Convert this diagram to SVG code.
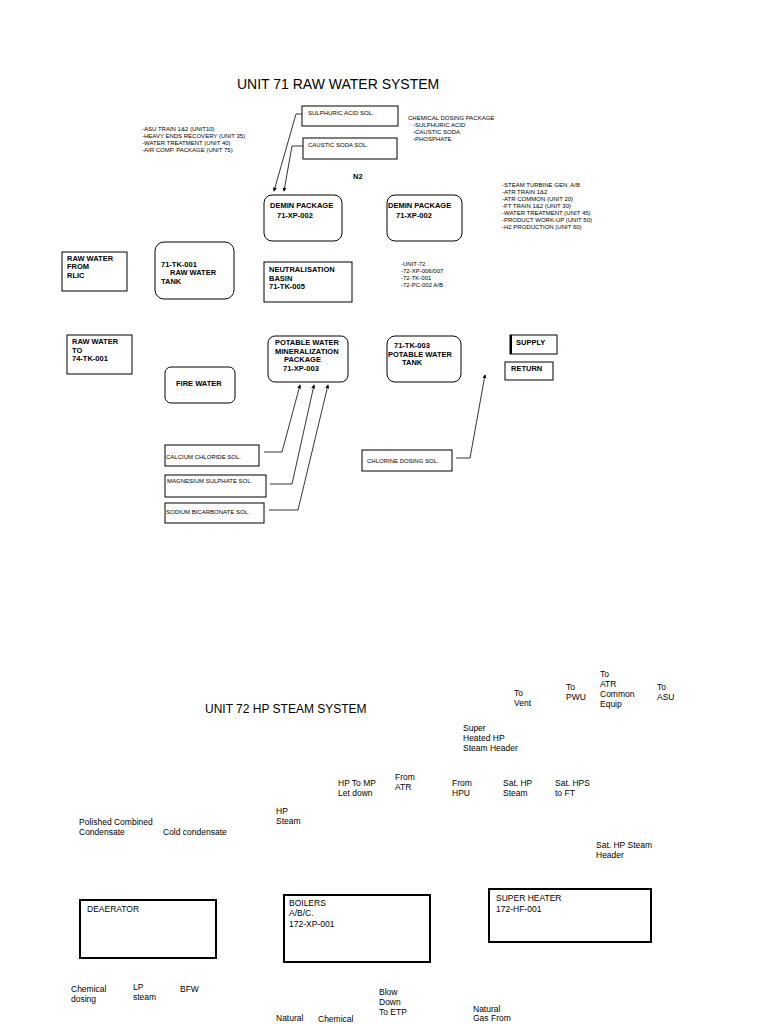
<svg xmlns="http://www.w3.org/2000/svg" width="768" height="1024" viewBox="0 0 768 1024">
<style>
text{font-family:"Liberation Sans",Arial,sans-serif;fill:#000}
.t{font-size:14px}
.s{font-size:6px}
.b{font-size:7.5px;font-weight:bold}
.n{font-size:8.5px}
.bx{fill:#fff;stroke:#000;stroke-width:1}
.bk{fill:#fff;stroke:#000;stroke-width:2}
.c{fill:none;stroke:#000;stroke-width:0.8}
</style>
<defs><marker id="a" viewBox="0 0 6 6" refX="5" refY="3" markerWidth="5" markerHeight="5" orient="auto"><path d="M0,0L6,3L0,6z"/></marker></defs>
<rect width="768" height="1024" fill="#fff"/>
<text class="t" x="237" y="89">UNIT 71 RAW WATER SYSTEM</text>
<g id="sulph"><rect class="bx" x="302" y="106" width="96" height="20"/><text class="s" x="308" y="115">SULPHURIC ACID SOL.</text></g>
<g id="caustic"><rect class="bx" x="303" y="138" width="94" height="21"/><text class="s" x="308" y="147">CAUSTIC SODA SOL.</text></g>
<g id="chemlist"><text class="s" x="408" y="120">CHEMICAL DOSING PACKAGE</text><text class="s" x="413" y="127">-SULPHURIC ACID</text><text class="s" x="413" y="134">-CAUSTIC SODA</text><text class="s" x="413" y="141">-PHOSPHATE</text></g>
<g id="asulist"><text class="s" x="142" y="131">-ASU TRAIN 1&amp;2 (UNIT10)</text><text class="s" x="142" y="138">-HEAVY ENDS RECOVERY (UNIT 35)</text><text class="s" x="142" y="145">-WATER TREATMENT (UNIT 40)</text><text class="s" x="142" y="152">-AIR COMP. PACKAGE (UNIT 75)</text></g>
<text class="b" x="353" y="179">N2</text>
<g id="demin1"><rect class="bx" x="264" y="195" width="78" height="46" rx="8"/><text class="b" x="270" y="208">DEMIN PACKAGE</text><text class="b" x="277" y="218">71-XP-002</text></g>
<g id="demin2"><rect class="bx" x="387" y="195" width="75" height="46" rx="8"/><text class="b" x="388" y="208">DEMIN PACKAGE</text><text class="b" x="396" y="218">71-XP-002</text></g>
<g id="rightlist"><text class="s" x="502" y="187">-STEAM TURBINE GEN. A/B</text><text class="s" x="502" y="194">-ATR TRAIN 1&amp;2</text><text class="s" x="502" y="201">-ATR COMMON (UNIT 20)</text><text class="s" x="502" y="208">-FT TRAIN 1&amp;2 (UNIT 30)</text><text class="s" x="502" y="215">-WATER TREATMENT (UNIT 45)</text><text class="s" x="502" y="222">-PRODUCT WORK-UP (UNIT 50)</text><text class="s" x="502" y="229">-H2 PRODUCTION (UNIT 60)</text></g>
<g id="rawfrom"><rect class="bx" x="62" y="252" width="65" height="39"/><text class="b" x="67" y="261">RAW WATER</text><text class="b" x="67" y="269">FROM</text><text class="b" x="67" y="278">RLIC</text></g>
<g id="tk001"><rect class="bx" x="155" y="242" width="79" height="57" rx="9"/><text class="b" x="161" y="267">71-TK-001</text><text class="b" x="170" y="275">RAW WATER</text><text class="b" x="161" y="284">TANK</text></g>
<g id="neut"><rect class="bx" x="264" y="262" width="88" height="40"/><text class="b" x="269" y="272">NEUTRALISATION</text><text class="b" x="269" y="281">BASIN</text><text class="b" x="269" y="289">71-TK-005</text></g>
<g id="unit72list"><text class="s" x="401" y="266">-UNIT-72</text><text class="s" x="401" y="273">-72-XP-006/007</text><text class="s" x="401" y="280">-72-TK-001</text><text class="s" x="401" y="287">-72-PC-002 A/B</text></g>
<g id="rawto"><rect class="bx" x="67" y="335" width="65" height="39"/><text class="b" x="72" y="344">RAW WATER</text><text class="b" x="72" y="353">TO</text><text class="b" x="72" y="361">74-TK-001</text></g>
<g id="fire"><rect class="bx" x="165" y="367" width="70" height="36" rx="6"/><text class="b" x="176" y="386">FIRE WATER</text></g>
<g id="potable"><rect class="bx" x="268" y="336" width="80" height="46" rx="7"/><text class="b" x="275" y="345">POTABLE WATER</text><text class="b" x="275" y="354">MINERALIZATION</text><text class="b" x="284" y="362">PACKAGE</text><text class="b" x="283" y="371">71-XP-003</text></g>
<g id="tk003"><rect class="bx" x="387" y="336" width="74" height="46" rx="8"/><text class="b" x="394" y="348">71-TK-003</text><text class="b" x="388" y="357">POTABLE WATER</text><text class="b" x="402" y="365">TANK</text></g>
<g id="supply"><rect class="bx" x="510" y="335" width="47" height="19"/><line x1="511" y1="335" x2="511" y2="354" stroke="#000" stroke-width="2"/><text class="b" x="516" y="345">SUPPLY</text></g>
<g id="return"><rect class="bx" x="505" y="362" width="48" height="18"/><text class="b" x="511" y="371">RETURN</text></g>
<g id="calcium"><rect class="bx" x="165" y="445" width="94" height="21"/><text class="s" x="166" y="459">CALCIUM CHLORIDE SOL.</text></g>
<g id="magnesium"><rect class="bx" x="165" y="475" width="101" height="22"/><text class="s" x="167" y="483">MAGNESIUM SULPHATE SOL.</text></g>
<g id="sodium"><rect class="bx" x="165" y="503" width="99" height="20"/><text class="s" x="166" y="514">SODIUM BICARBONATE SOL.</text></g>
<g id="chlorine"><rect class="bx" x="362" y="450" width="90" height="21"/><text class="s" x="367" y="463">CHLORINE DOSING SOL.</text></g>
<g id="connectors">
<polyline class="c" points="302,114 296,114 274,191" marker-end="url(#a)"/>
<polyline class="c" points="303,146 292,146 284,191" marker-end="url(#a)"/>
<polyline class="c" points="264,452 282,452 300,385" marker-end="url(#a)"/>
<polyline class="c" points="270,484 292,484 314,385" marker-end="url(#a)"/>
<polyline class="c" points="269,510 298,510 328,385" marker-end="url(#a)"/>
<polyline class="c" points="456,458 470,458 485,375" marker-end="url(#a)"/>
</g>
<text x="205" y="713" style="font-size:12px">UNIT 72 HP STEAM SYSTEM</text>
<g class="labels">
<text class="n" x="514" y="696">To</text><text class="n" x="514" y="706">Vent</text>
<text class="n" x="566" y="690">To</text><text class="n" x="566" y="700">PWU</text>
<text class="n" x="600" y="677">To</text><text class="n" x="600" y="687">ATR</text><text class="n" x="600" y="697">Common</text><text class="n" x="600" y="707">Equip</text>
<text class="n" x="657" y="690">To</text><text class="n" x="657" y="700">ASU</text>
<text class="n" x="463" y="731">Super</text><text class="n" x="463" y="741">Heated HP</text><text class="n" x="463" y="751">Steam Header</text>
<text class="n" x="338" y="786">HP To MP</text><text class="n" x="338" y="796">Let down</text>
<text class="n" x="395" y="780">From</text><text class="n" x="395" y="790">ATR</text>
<text class="n" x="452" y="786">From</text><text class="n" x="452" y="796">HPU</text>
<text class="n" x="503" y="786">Sat. HP</text><text class="n" x="503" y="796">Steam</text>
<text class="n" x="555" y="786">Sat. HPS</text><text class="n" x="555" y="796">to FT</text>
<text class="n" x="276" y="814">HP</text><text class="n" x="276" y="824">Steam</text>
<text class="n" x="79" y="825">Polished Combined</text><text class="n" x="79" y="835">Condensate</text>
<text class="n" x="163" y="835">Cold condensate</text>
<text class="n" x="596" y="848">Sat. HP Steam</text><text class="n" x="596" y="858">Header</text>
<text class="n" x="71" y="992">Chemical</text><text class="n" x="71" y="1002">dosing</text>
<text class="n" x="133" y="990">LP</text><text class="n" x="133" y="1000">steam</text>
<text class="n" x="180" y="992">BFW</text>
<text class="n" x="379" y="995">Blow</text><text class="n" x="379" y="1005">Down</text><text class="n" x="379" y="1015">To ETP</text>
<text class="n" x="276" y="1021">Natural</text>
<text class="n" x="318" y="1022">Chemical</text>
<text class="n" x="473" y="1012">Natural</text><text class="n" x="473" y="1021">Gas From</text>
</g>
<g id="deaerator"><rect class="bk" x="80" y="900" width="136" height="58"/><text class="n" x="87" y="912">DEAERATOR</text></g>
<g id="boilers"><rect class="bk" x="284" y="895" width="146" height="67"/><text class="n" x="289" y="906">BOILERS</text><text class="n" x="289" y="916">A/B/C.</text><text class="n" x="289" y="927">172-XP-001</text></g>
<g id="superheater"><rect class="bk" x="489" y="889" width="162" height="53"/><text class="n" x="496" y="901">SUPER HEATER</text><text class="n" x="496" y="912">172-HF-001</text></g>
</svg>
